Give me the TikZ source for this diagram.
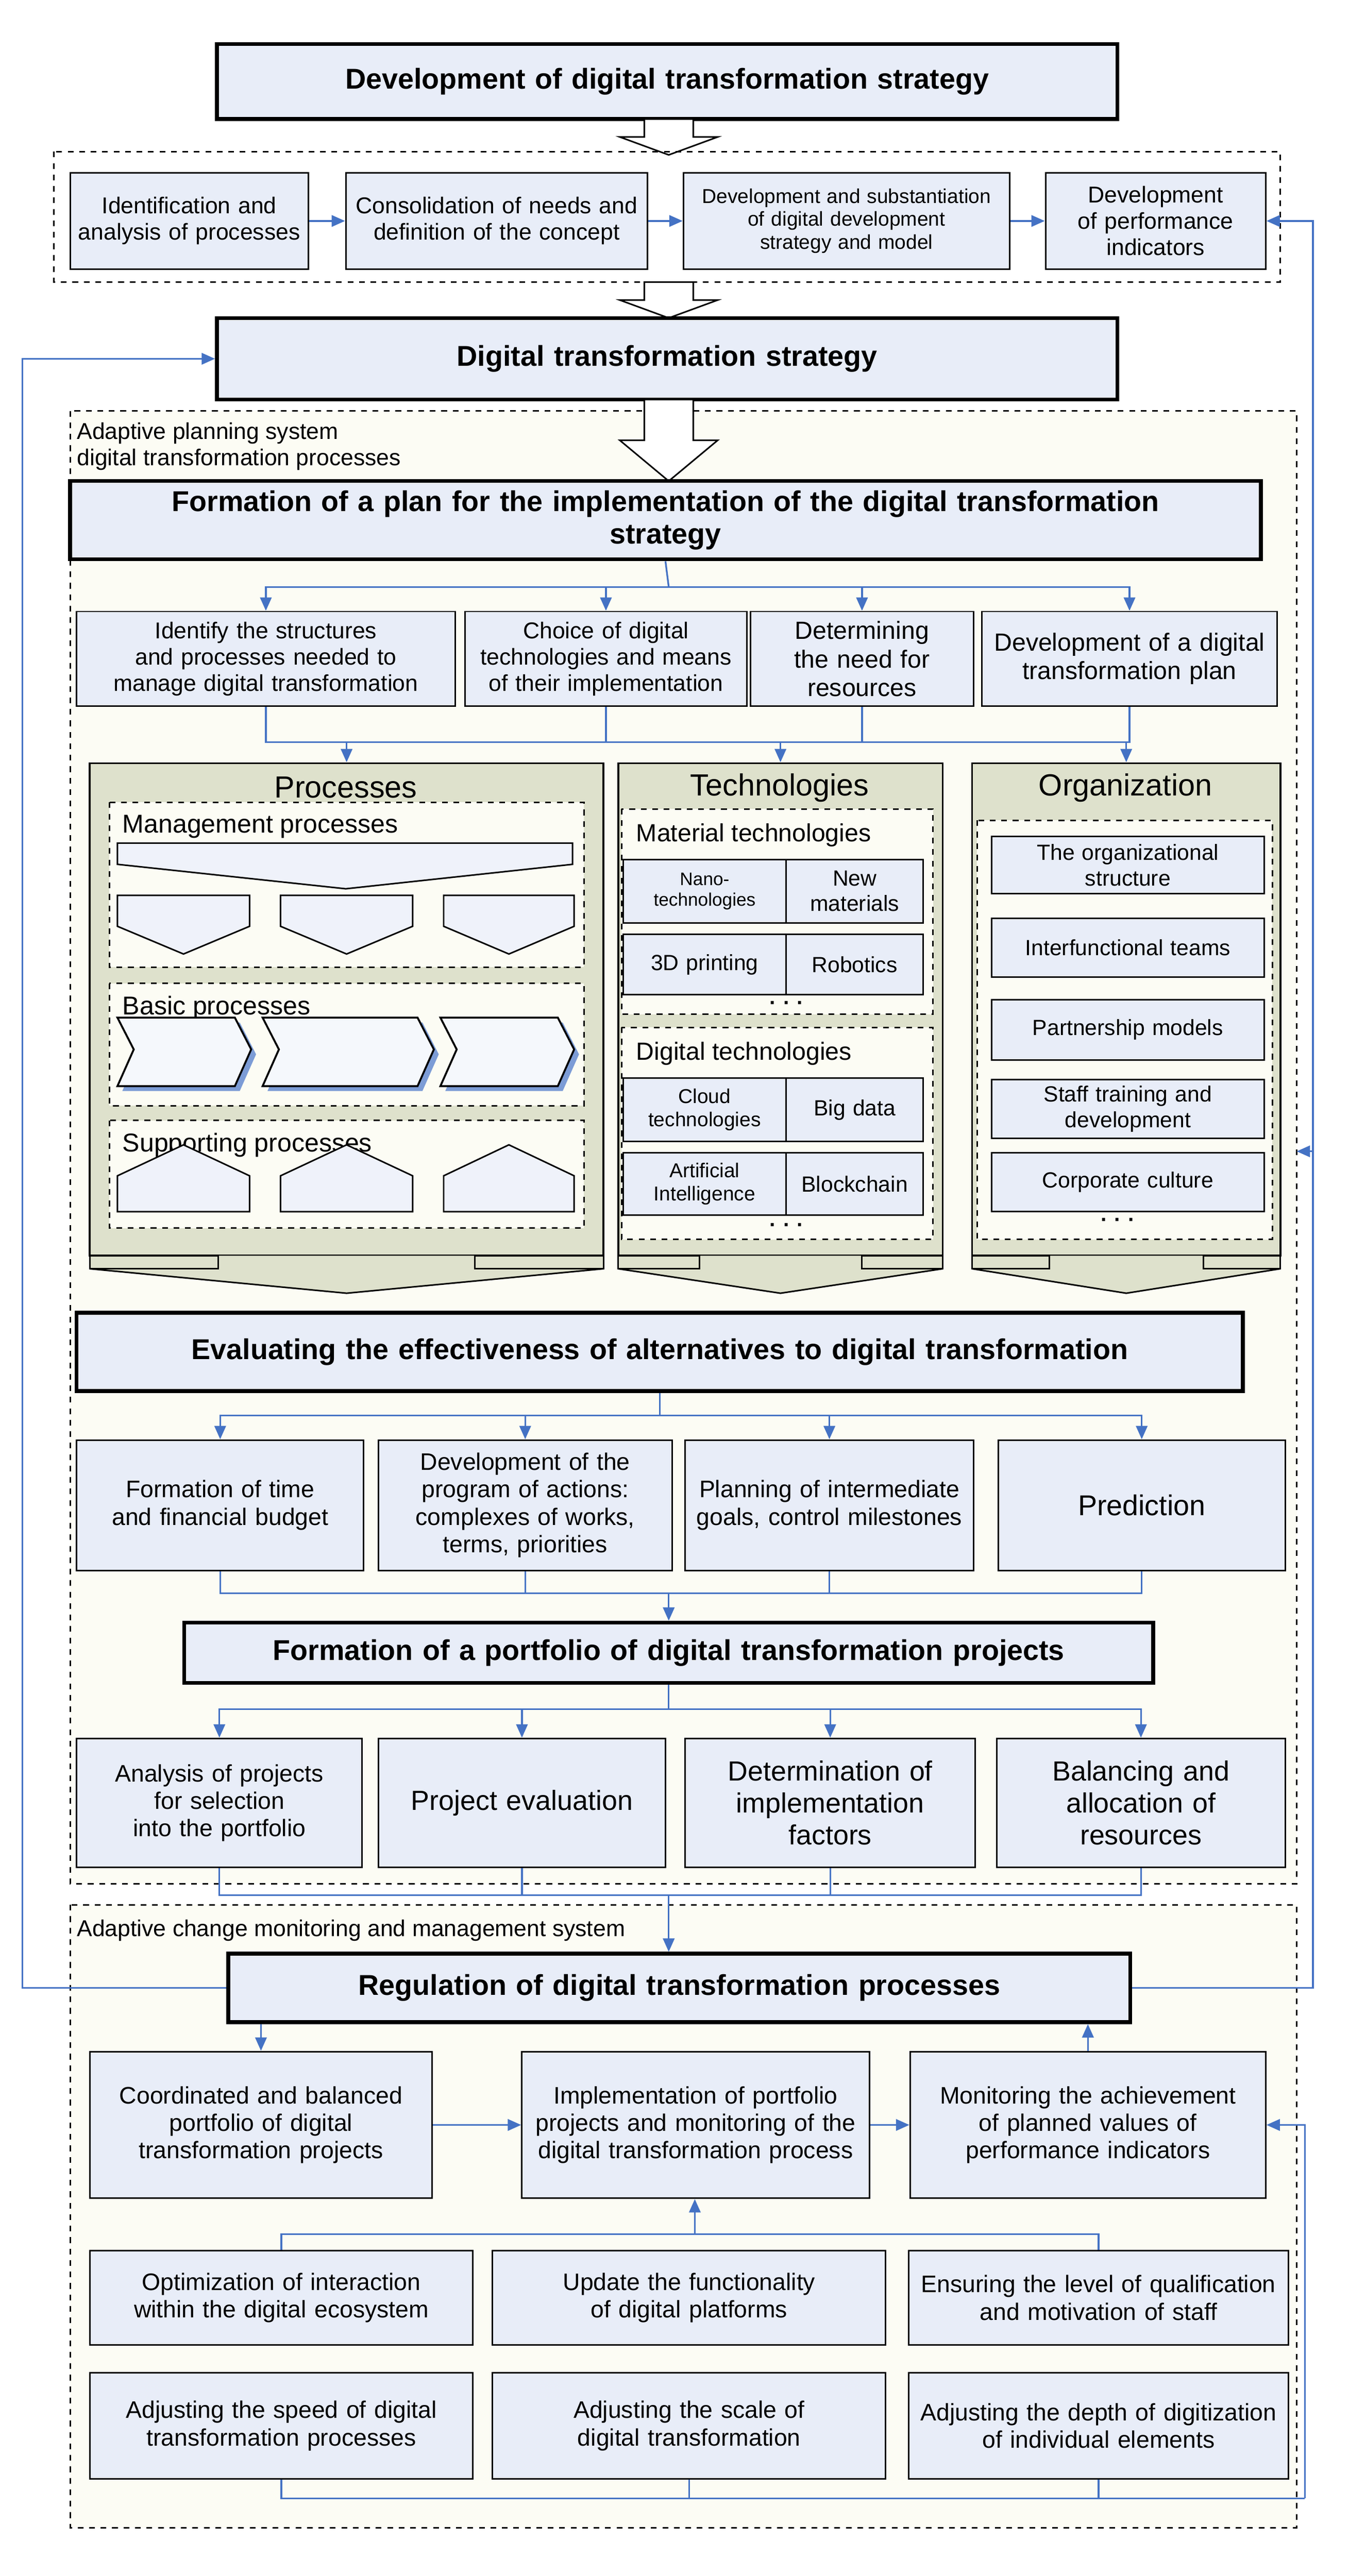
\documentclass[tikz,border=0pt]{standalone}
\usepackage{fontspec}
\setmainfont{Liberation Sans}
\usetikzlibrary{arrows.meta,calc}
\definecolor{boxfill}{HTML}{E8EDF8}
\definecolor{cream}{HTML}{FCFCF4}
\definecolor{panelfill}{HTML}{DEE1CC}
\definecolor{myblue}{HTML}{4472C4}
\newcommand\fs[1]{\pgfmathsetmacro\fsl{#1*1.15}\fontsize{#1}{\fsl}\selectfont\hyphenpenalty=10000\exhyphenpenalty=10000 }
\newcommand\bx[7][]{%
  \pgfmathsetmacro\bw{(#5-#3)*0.03}%
  \pgfmathsetmacro\bh{(#6-#4)*0.03}%
  \pgfmathsetmacro\tw{(#5-#3)*0.03-0.3}%
  \node[box,minimum width=\bw cm,minimum height=\bh cm,text width=\tw cm,#1] (#2) at ({(#3+#5)/2},{(#4+#6)/2}) {#7};}
\newcommand\barrow[4]{%
  \draw[fill=white,line width=0.8pt] ({#1-15},#2)--({#1+15},#2)--({#1+15},#4)--({#1+30},#4)--(#1,#3)--({#1-30},#4)--({#1-15},#4)--cycle;}
\newcommand\panelfoot[5]{% x1 x2 y2 y3 y4
  \pgfmathsetmacro\nw{(#2-#1)*0.25}%
  \fill[panelfill] (#1,#3)--(#2,#3)--(#2,#4)--({(#1+#2)/2},#5)--(#1,#4)--cycle;
  \draw[line width=0.8pt] (#1,#3) rectangle ({#1+\nw},#4);
  \draw[line width=0.8pt] ({#2-\nw},#3) rectangle (#2,#4);
  \draw[line width=0.8pt] (#1,#4)--({(#1+#2)/2},#5)--(#2,#4);}
\begin{document}
\begin{tikzpicture}[x=0.03cm,y=-0.03cm,
  box/.style={draw,fill=boxfill,line width=0.8pt,align=center,inner sep=0pt,font=\fs{12}},
  title/.style={line width=2pt,font=\bfseries\fs{15}},
  panel/.style={fill=panelfill,line width=1pt},
  dsh/.style={dashed,line width=0.8pt,fill=cream},
  ln/.style={draw=myblue,line width=0.9pt},
  con/.style={ln,-{Triangle[length=7pt,width=6pt]}},
  shp/.style={draw,fill=boxfill!70!white,line width=0.8pt}]
\useasboundingbox (0,0) rectangle (827,1579.6);
\fill[white] (0,0) rectangle (827,1579.6);
% ---------- top ----------
\bx[title]{t1}{133}{27}{685}{73}{Development of digital transformation strategy}
\barrow{410}{73}{95}{84}
\draw[dashed,line width=0.8pt] (33,93) rectangle (785,173);
\bx{b1}{43}{106}{189}{165}{Identification and analysis of processes}
\bx{b2}{212}{106}{397}{165}{Consolidation of needs and definition of the concept}
\bx[font=\fs{10.5}]{b3}{419}{106}{619}{165}{Development and substantiation of digital development strategy and model}
\bx{b4}{641}{106}{776}{165}{Development of performance indicators}
\draw[con] (b1)--(b2); \draw[con] (b2)--(b3); \draw[con] (b3)--(b4);
\barrow{410}{173}{195}{184}
\bx[title]{t2}{133}{195}{685}{245}{Digital transformation strategy}
% ---------- planning system ----------
\draw[dsh] (43,252) rectangle (795,1155);
\node[anchor=north west,align=left,inner sep=0pt,font=\fs{12}] (lab1) at (47,259) {Adaptive planning system\\digital transformation processes};
\barrow{410}{245}{295}{270}
\bx[title,text width=20cm]{t3}{43}{295}{773}{343}{Formation of a plan for the implementation of the digital transformation\\strategy}
\bx{p1}{47}{375}{279}{433}{Identify the structures and processes needed to manage digital transformation}
\bx{p2}{285}{375}{458}{433}{Choice of digital technologies and means of their implementation}
\bx[font=\fs{13}]{p3}{460}{375}{597}{433}{Determining the need for resources}
\bx[font=\fs{13}]{p4}{602}{375}{783}{433}{Development of a digital transformation plan}
\coordinate (j1) at (410,360);
\draw[ln] (t3.south)--(j1);
\foreach \n in {p1,p2,p3,p4} \draw[con] (j1) -| (\n.north);
\coordinate (j2) at (410,455);
\foreach \n in {p1,p2,p3,p4} \draw[ln] (\n.south) |- (j2);
% panels
\bx[panel]{P1}{55}{468}{370}{770}{}
\bx[panel]{P2}{379}{468}{578}{770}{}
\bx[panel]{P3}{596}{468}{785}{770}{}
\panelfoot{55}{370}{770}{778}{793}
\panelfoot{379}{578}{770}{778}{793}
\panelfoot{596}{785}{770}{778}{793}
\draw[con] (j2) -| (P1.north);
\draw[con] (j2) -| (P2.north);
\draw[con] (j2) -| (P3.north);
\node[font=\fs{16}] (h1) at (212,483) {Processes};
\node[font=\fs{16}] (h2) at (478,483) {Technologies};
\node[font=\fs{16}] (h3) at (690,483) {Organization};
% processes
\draw[dsh] (67,492) rectangle (358,593);
\draw[dsh] (67,603) rectangle (358,678);
\draw[dsh] (67,687) rectangle (358,753);
\node[anchor=west,font=\fs{13.5}] (m1) at (71,507) {Management processes};
\node[anchor=west,font=\fs{13.5}] (m2) at (71,618) {Basic processes};
\node[anchor=west,font=\fs{13.5}] (m3) at (71,702) {Supporting processes};
\draw[shp] (72,517)--(351,517)--(351,530)--(212,545)--(72,530)--cycle;
\foreach \a/\b in {72/153,172/253,272/352}{
  \draw[shp] (\a,549)--(\b,549)--(\b,568)--({(\a+\b)/2},585)--(\a,568)--cycle;
  \draw[shp] (\a,743)--(\b,743)--(\b,721)--({(\a+\b)/2},702)--(\a,721)--cycle;}
\foreach \a/\b in {72/154,161/266,270/352}{
  \fill[myblue!70] ({\a+3},{627})--({\b-10+3},627)--({\b+3},{646.5})--({\b-10+3},669)--({\a+3},669)--({\a+10+3},{646.5})--cycle;
  \draw[fill=boxfill!85!myblue!20,line width=1pt] (\a,624)--({\b-10},624)--(\b,643.5)--({\b-10},666)--(\a,666)--({\a+10},643.5)--cycle;}
% technologies
\draw[dsh] (381,496) rectangle (572,622);
\draw[dsh] (381,630) rectangle (572,760);
\node[anchor=west,font=\fs{13}] (m4) at (386,512) {Material technologies};
\node[anchor=west,font=\fs{13}] (m5) at (386,646) {Digital technologies};
\bx[font=\fs{9.5},text width=3cm]{c1}{392}{527}{472}{566}{Nano-\\technologies}
\bx[font=\fs{11.5}]{c2}{482}{527}{566}{566}{New\\materials}
\bx[font=\fs{11.5},text width=3cm]{c3}{392}{573}{472}{610}{3D printing}
\bx[font=\fs{11.5}]{c4}{482}{573}{566}{610}{Robotics}
\node[font=\bfseries\fs{11}] (d1) at (482,615) {. . .};
\bx[font=\fs{10.5},text width=3cm]{c5}{392}{661}{472}{700}{Cloud\\technologies}
\bx[font=\fs{11.5}]{c6}{482}{661}{566}{700}{Big data}
\bx[font=\fs{10.5},text width=3cm]{c7}{392}{707}{472}{745}{Artificial\\Intelligence}
\bx[font=\fs{11.5}]{c8}{482}{707}{566}{745}{Blockchain}
\node[font=\bfseries\fs{11}] (d2) at (482,751) {. . .};
% organization
\draw[dsh] (599,503) rectangle (780,760);
\bx[font=\fs{11.5}]{o1}{608}{513}{775}{548}{The organizational structure}
\bx[font=\fs{11.5}]{o2}{608}{563}{775}{599}{Interfunctional teams}
\bx[font=\fs{11.5}]{o3}{608}{613}{775}{650}{Partnership models}
\bx[font=\fs{11.5}]{o4}{608}{662}{775}{698}{Staff training and development}
\bx[font=\fs{11.5}]{o5}{608}{707}{775}{743}{Corporate culture}
\node[font=\bfseries\fs{11}] (d3) at (685,748) {. . .};
% evaluating
\bx[title]{t4}{47}{805}{762}{853}{Evaluating the effectiveness of alternatives to digital transformation}
\bx[font=\fs{12.5}]{e1}{47}{883}{223}{963}{Formation of time and financial budget}
\bx[font=\fs{12.5}]{e2}{232}{883}{412}{963}{Development of the program of actions: complexes of works, terms, priorities}
\bx[font=\fs{12.5}]{e3}{420}{883}{597}{963}{Planning of intermediate goals, control milestones}
\bx[font=\fs{15}]{e4}{612}{883}{788}{963}{Prediction}
\coordinate (j3) at (410,868);
\draw[ln] (t4.south |- j3) -- (t4.south);
\foreach \n in {e1,e2,e3,e4} \draw[con] (t4.south |- j3) -| (\n.north);
\coordinate (j4) at (410,977);
\foreach \n in {e1,e2,e3,e4} \draw[ln] (\n.south) |- (j4);
\bx[title]{t5}{113}{995}{707}{1032}{Formation of a portfolio of digital transformation projects}
\draw[con] (j4)--(t5.north);
\bx[font=\fs{12.5}]{f1}{47}{1066}{222}{1145}{Analysis of projects for selection into the portfolio}
\bx[font=\fs{14.5}]{f2}{232}{1066}{408}{1145}{Project evaluation}
\bx[font=\fs{14.5}]{f3}{420}{1066}{598}{1145}{Determination of implementation factors}
\bx[font=\fs{14.5}]{f4}{611}{1066}{788}{1145}{Balancing and allocation of resources}
\coordinate (j5) at (410,1048);
\draw[ln] (t5.south)--(j5);
\foreach \n in {f1,f2,f3,f4} \draw[con] (j5) -| (\n.north);
% ---------- monitoring ----------
\draw[dsh] (43,1168) rectangle (795,1550);
\node[anchor=north west,inner sep=0pt,font=\fs{12}] (lab2) at (47,1177) {Adaptive change monitoring and management system};
\coordinate (j6) at (410,1162);
\foreach \n in {f1,f2,f3,f4} \draw[ln] (\n.south) |- (j6);
\bx[title]{t6}{140}{1198}{693}{1240}{Regulation of digital transformation processes}
\draw[con] (j6)--(j6 |- t6.north);
\draw[con] (t6.west) -- ++(-125,0) |- (t2.west);
\coordinate (rr) at (805,706);
\coordinate (apb) at (795,706);
\draw[ln] (t6.east) -| (rr);
\draw[con] (rr) |- (b4.east);
\draw[con] (rr) -- (apb);
\bx[font=\fs{12.5}]{g1}{55}{1258}{265}{1348}{Coordinated and balanced portfolio of digital transformation projects}
\bx[font=\fs{12.5}]{g2}{320}{1258}{533}{1348}{Implementation of portfolio projects and monitoring of the digital transformation process}
\bx[font=\fs{12.5}]{g3}{558}{1258}{776}{1348}{Monitoring the achievement of planned values of performance indicators}
\draw[con] (g1.north |- t6.south) -- (g1.north);
\draw[con] (g3.north) -- (g3.north |- t6.south);
\draw[con] (g1)--(g2); \draw[con] (g2)--(g3);
\bx[font=\fs{12.5}]{h1b}{55}{1380}{290}{1438}{Optimization of interaction within the digital ecosystem}
\bx[font=\fs{12.5}]{h2b}{302}{1380}{543}{1438}{Update the functionality of digital platforms}
\bx[font=\fs{12.5}]{h3b}{557}{1380}{790}{1438}{Ensuring the level of qualification and motivation of staff}
\bx[font=\fs{12.5}]{k1}{55}{1455}{290}{1520}{Adjusting the speed of digital transformation processes}
\bx[font=\fs{12.5}]{k2}{302}{1455}{543}{1520}{Adjusting the scale of digital transformation}
\bx[font=\fs{12.5}]{k3}{557}{1455}{790}{1520}{Adjusting the depth of digitization of individual elements}
\coordinate (j7) at (426,1370);
\draw[ln] (h1b.north) |- (j7) -| (h3b.north);
\draw[con] (j7) -- (j7 |- g2.south);
\coordinate (j8) at (800,1532);
\foreach \n in {k1,k2,k3} \draw[ln] (\n.south) |- (j8);
\draw[con] (j8) |- (g3.east);
\end{tikzpicture}
\end{document}
